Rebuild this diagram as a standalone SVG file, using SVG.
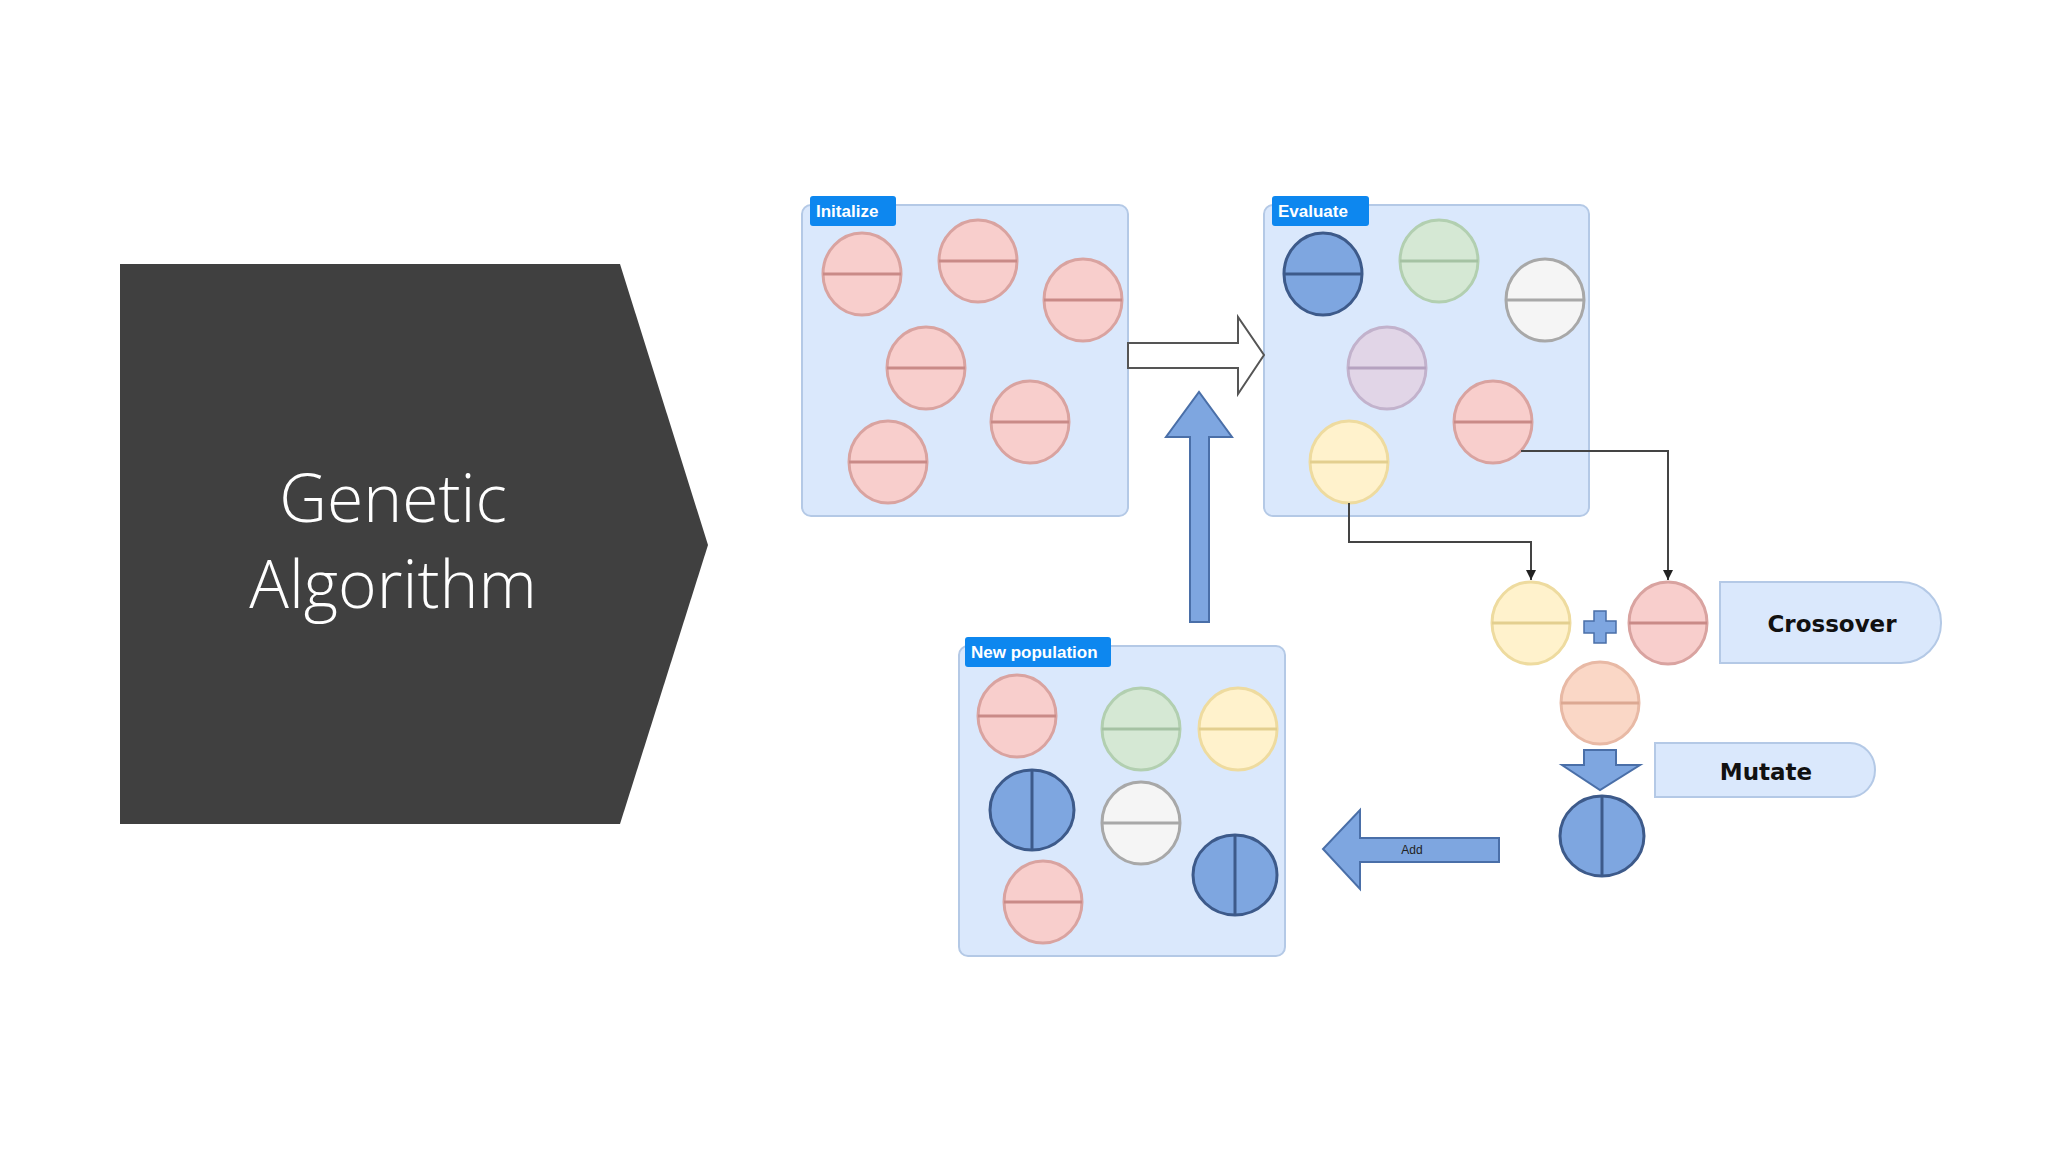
<svg xmlns="http://www.w3.org/2000/svg" width="2048" height="1152" viewBox="0 0 2048 1152">
<defs>
<style>
.box{fill:#dae8fc;stroke:#b4c9e6;stroke-width:2}
.tab{fill:#0d87ef}
.tabt{fill:#fff;font-family:"Liberation Sans",Arial,sans-serif;font-size:17px;font-weight:bold}
.pk{fill:#f8cecc;stroke:#d9a3a0;stroke-width:3}
.pkl{stroke:#c98a87;stroke-width:3}
.bl{fill:#7ea6e0;stroke:#3d5a8a;stroke-width:3}
.bll{stroke:#3d5a8a;stroke-width:3}
.gr{fill:#d5e8d4;stroke:#b2cfb0;stroke-width:3}
.grl{stroke:#a5c2a3;stroke-width:3}
.wh{fill:#f5f5f5;stroke:#a8a8a8;stroke-width:3}
.whl{stroke:#a8a8a8;stroke-width:3}
.pu{fill:#e1d5e7;stroke:#c2b2cc;stroke-width:3}
.pul{stroke:#b5a2c0;stroke-width:3}
.ye{fill:#fff2cc;stroke:#eedb9f;stroke-width:3}
.yel{stroke:#e3cf8f;stroke-width:3}
.pe{fill:#fad7c6;stroke:#e8b9a5;stroke-width:3}
.pel{stroke:#dca892;stroke-width:3}
.pill{fill:#dae8fc;stroke:#b4c9e6;stroke-width:2}
.pillt{fill:#111;font-family:"DejaVu Sans",Verdana,sans-serif;font-size:23px;font-weight:bold}
.conn{fill:none;stroke:#444;stroke-width:2}
.barr{fill:#7ea6e0;stroke:#4a6fa8;stroke-width:2}
.title{fill:#fff;font-family:"Open Sans",sans-serif;font-weight:300;font-size:66px}
</style>
<marker id="ah" viewBox="0 0 10 10" refX="10" refY="5" markerWidth="5" markerHeight="5" orient="auto"><path d="M0,0 L10,5 L0,10 z" fill="#222"/></marker>
</defs>
<rect width="2048" height="1152" fill="#ffffff"/>
<g id="title">
<polygon points="120,264 620,264 708,545 620,824 120,824" fill="#404040"/>
<text class="title" x="393" y="522" text-anchor="middle">Genetic</text>
<text class="title" x="393" y="608" text-anchor="middle">Algorithm</text>
</g>
<g id="initialize">
<rect class="box" x="802" y="205" width="326" height="311" rx="9"/>
<rect class="tab" x="810" y="196" width="86" height="30" rx="3"/>
<text class="tabt" x="816" y="217">Initalize</text>
<g><ellipse class="pk" cx="862" cy="274" rx="39" ry="41"/><line class="pkl" x1="823" y1="274" x2="901" y2="274"/></g>
<g><ellipse class="pk" cx="978" cy="261" rx="39" ry="41"/><line class="pkl" x1="939" y1="261" x2="1017" y2="261"/></g>
<g><ellipse class="pk" cx="1083" cy="300" rx="39" ry="41"/><line class="pkl" x1="1044" y1="300" x2="1122" y2="300"/></g>
<g><ellipse class="pk" cx="926" cy="368" rx="39" ry="41"/><line class="pkl" x1="887" y1="368" x2="965" y2="368"/></g>
<g><ellipse class="pk" cx="1030" cy="422" rx="39" ry="41"/><line class="pkl" x1="991" y1="422" x2="1069" y2="422"/></g>
<g><ellipse class="pk" cx="888" cy="462" rx="39" ry="41"/><line class="pkl" x1="849" y1="462" x2="927" y2="462"/></g>
</g>
<g id="evaluate">
<rect class="box" x="1264" y="205" width="325" height="311" rx="9"/>
<rect class="tab" x="1272" y="196" width="97" height="30" rx="3"/>
<text class="tabt" x="1278" y="217">Evaluate</text>
<g><ellipse class="bl" cx="1323" cy="274" rx="39" ry="41"/><line class="bll" x1="1284" y1="274" x2="1362" y2="274"/></g>
<g><ellipse class="gr" cx="1439" cy="261" rx="39" ry="41"/><line class="grl" x1="1400" y1="261" x2="1478" y2="261"/></g>
<g><ellipse class="wh" cx="1545" cy="300" rx="39" ry="41"/><line class="whl" x1="1506" y1="300" x2="1584" y2="300"/></g>
<g><ellipse class="pu" cx="1387" cy="368" rx="39" ry="41"/><line class="pul" x1="1348" y1="368" x2="1426" y2="368"/></g>
<g><ellipse class="pk" cx="1493" cy="422" rx="39" ry="41"/><line class="pkl" x1="1454" y1="422" x2="1532" y2="422"/></g>
<g><ellipse class="ye" cx="1349" cy="462" rx="39" ry="41"/><line class="yel" x1="1310" y1="462" x2="1388" y2="462"/></g>
</g>
<g id="crossover">
<g><ellipse class="ye" cx="1531" cy="623" rx="39" ry="41"/><line class="yel" x1="1492" y1="623" x2="1570" y2="623"/></g>
<path d="M1594,611 h12 v10 h10 v12 h-10 v10 h-12 v-10 h-10 v-12 h10 z" fill="#7ea6e0" stroke="#4a6fa8" stroke-width="1.5"/>
<g><ellipse class="pk" cx="1668" cy="623" rx="39" ry="41"/><line class="pkl" x1="1629" y1="623" x2="1707" y2="623"/></g>
<path class="pill" d="M1720,582 H1901 A40,40 0 0 1 1941,622 A40,40 0 0 1 1901,663 H1720 Z"/>
<text class="pillt" x="1832" y="632" text-anchor="middle">Crossover</text>
</g>
<g id="child">
<ellipse class="pe" cx="1600" cy="703" rx="39" ry="41"/><line class="pel" x1="1561" y1="703" x2="1639" y2="703"/>
</g>
<g id="mutate">
<path class="pill" d="M1655,743 H1850 A25,27 0 0 1 1875,770 A25,27 0 0 1 1850,797 H1655 Z"/>
<text class="pillt" x="1766" y="780" text-anchor="middle">Mutate</text>
</g>
<g id="mutated">
<ellipse class="bl" cx="1602" cy="836" rx="42" ry="40"/><line class="bll" x1="1602" y1="796" x2="1602" y2="876"/>
</g>
<g id="newpop">
<rect class="box" x="959" y="646" width="326" height="310" rx="9"/>
<rect class="tab" x="965" y="637" width="146" height="30" rx="3"/>
<text class="tabt" x="971" y="658">New population</text>
<g><ellipse class="pk" cx="1017" cy="716" rx="39" ry="41"/><line class="pkl" x1="978" y1="716" x2="1056" y2="716"/></g>
<g><ellipse class="gr" cx="1141" cy="729" rx="39" ry="41"/><line class="grl" x1="1102" y1="729" x2="1180" y2="729"/></g>
<g><ellipse class="ye" cx="1238" cy="729" rx="39" ry="41"/><line class="yel" x1="1199" y1="729" x2="1277" y2="729"/></g>
<g><ellipse class="bl" cx="1032" cy="810" rx="42" ry="40"/><line class="bll" x1="1032" y1="770" x2="1032" y2="850"/></g>
<g><ellipse class="wh" cx="1141" cy="823" rx="39" ry="41"/><line class="whl" x1="1102" y1="823" x2="1180" y2="823"/></g>
<g><ellipse class="bl" cx="1235" cy="875" rx="42" ry="40"/><line class="bll" x1="1235" y1="835" x2="1235" y2="915"/></g>
<g><ellipse class="pk" cx="1043" cy="902" rx="39" ry="41"/><line class="pkl" x1="1004" y1="902" x2="1082" y2="902"/></g>
</g>
<g id="connectors">
<polygon points="1128,343 1238,343 1238,317 1264,355 1238,394 1238,368 1128,368" fill="#fff" stroke="#555" stroke-width="2"/>
<polygon class="barr" points="1190,622 1190,437 1166,437 1199,392 1232,437 1209,437 1209,622"/>
<polyline class="conn" points="1521,451 1668,451 1668,580" marker-end="url(#ah)"/>
<polyline class="conn" points="1349,503 1349,542 1531,542 1531,580" marker-end="url(#ah)"/>
<polygon class="barr" points="1584,750 1616,750 1616,765 1640,765 1600,790 1562,765 1584,765"/>
<polygon class="barr" points="1499,838 1360,838 1360,810 1323,849 1360,889 1360,862 1499,862"/>
<text x="1412" y="854" text-anchor="middle" font-family="'Liberation Sans',Arial,sans-serif" font-size="12" fill="#222">Add</text>
</g>
</svg>
